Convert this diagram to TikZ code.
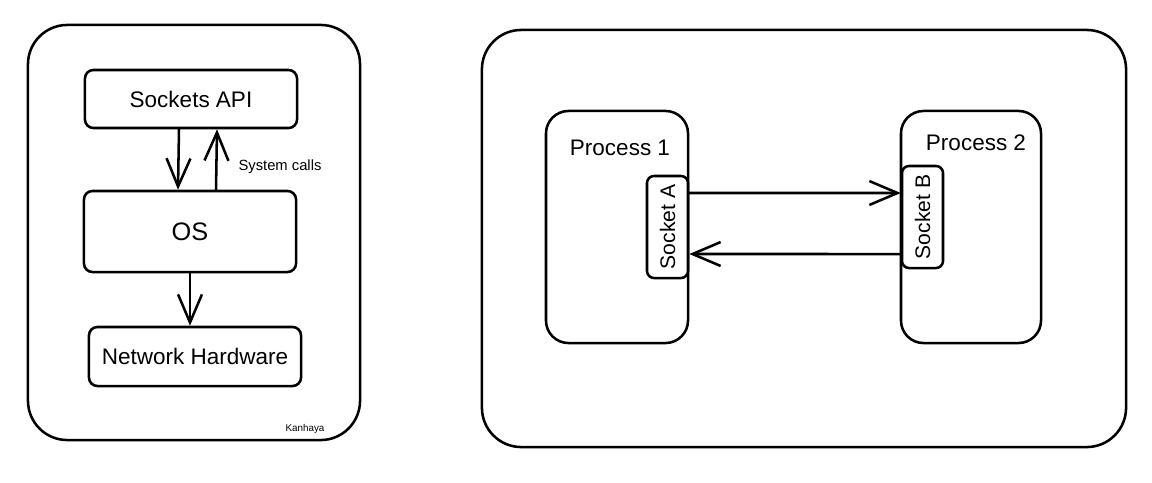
\documentclass[tikz,border=0pt]{standalone}
\usepackage{fontspec}
\usepackage{graphicx}
\setmainfont{Liberation Sans}
\usetikzlibrary{arrows.meta}

\begin{document}
\begin{tikzpicture}[
    x=0.025cm, y=-0.025cm,
    frame/.style={rectangle, draw, line width=1.8pt, rounded corners=28pt},
    box/.style={rectangle, draw, line width=1.8pt, rounded corners=6pt, minimum width=5.3cm, font=\fontsize{16}{19}\selectfont},
    procbox/.style={rectangle, draw, line width=1.8pt, rounded corners=16pt, minimum height=5.8cm},
    sockbox/.style={rectangle, draw, fill=white, line width=1.8pt, rounded corners=5pt, minimum width=1.025cm, minimum height=2.55cm, inner sep=0pt, font=\fontsize{15}{18}\selectfont},
    plabel/.style={anchor=center, font=\fontsize{16}{19}\selectfont},
    arrow/.style={-{Straight Barb[length=20pt, width=17pt]}, line width=1.8pt, line cap=round, line join=round}
]
    \useasboundingbox (0,0) rectangle (1152,482);

    % left side: the layers
    \node[frame, minimum width=8.3cm, minimum height=10.375cm] (stack) at (194,232.5) {};
    \node[box, minimum height=1.45cm] (api) at (191,99) {Sockets API};
    \node[box, minimum height=2.025cm, font=\fontsize{18}{21}\selectfont] (os) at (190,231.5) {OS};
    \node[box, minimum height=1.475cm] (hw) at (195,356.5) {Network Hardware};
    \node[font=\fontsize{10.5}{12}\selectfont] (syscalls) at (280,167) {System calls};
    \node[font=\fontsize{7}{8}\selectfont] (author) at (305,429) {Kanhaya};

    \draw[arrow] ([xshift=-0.3cm]api.south) -- ([xshift=-0.3cm]os.north);
    \draw[arrow] ([xshift=0.65cm]os.north) -- ([xshift=0.65cm]api.south);
    \draw[arrow] (os.south) -- (os.south |- hw.north);

    % right side: two processes
    \node[frame, minimum width=16.1cm, minimum height=10.425cm] (ipc) at (804,238.5) {};
    \node[procbox, minimum width=3.55cm, label={[plabel, xshift=0.075cm, yshift=-0.95cm]north:{Process 1}}] (proc1) at (617,227) {};
    \node[procbox, minimum width=3.5cm, label={[plabel, xshift=0.125cm, yshift=-0.825cm]north:{Process 2}}] (proc2) at (971,227) {};
    \node[sockbox] (sockA) at (667.5,227) {\rotatebox{90}{Socket A}};
    \node[sockbox] (sockB) at (922.5,217) {\rotatebox{90}{Socket B}};

    \draw[arrow] ([yshift=0.85cm]sockA.east) -- ([yshift=0.6cm]sockB.west);
    \draw[arrow] ([yshift=-0.925cm]sockB.west) -- ([yshift=-0.675cm]sockA.east);
\end{tikzpicture}
\end{document}
